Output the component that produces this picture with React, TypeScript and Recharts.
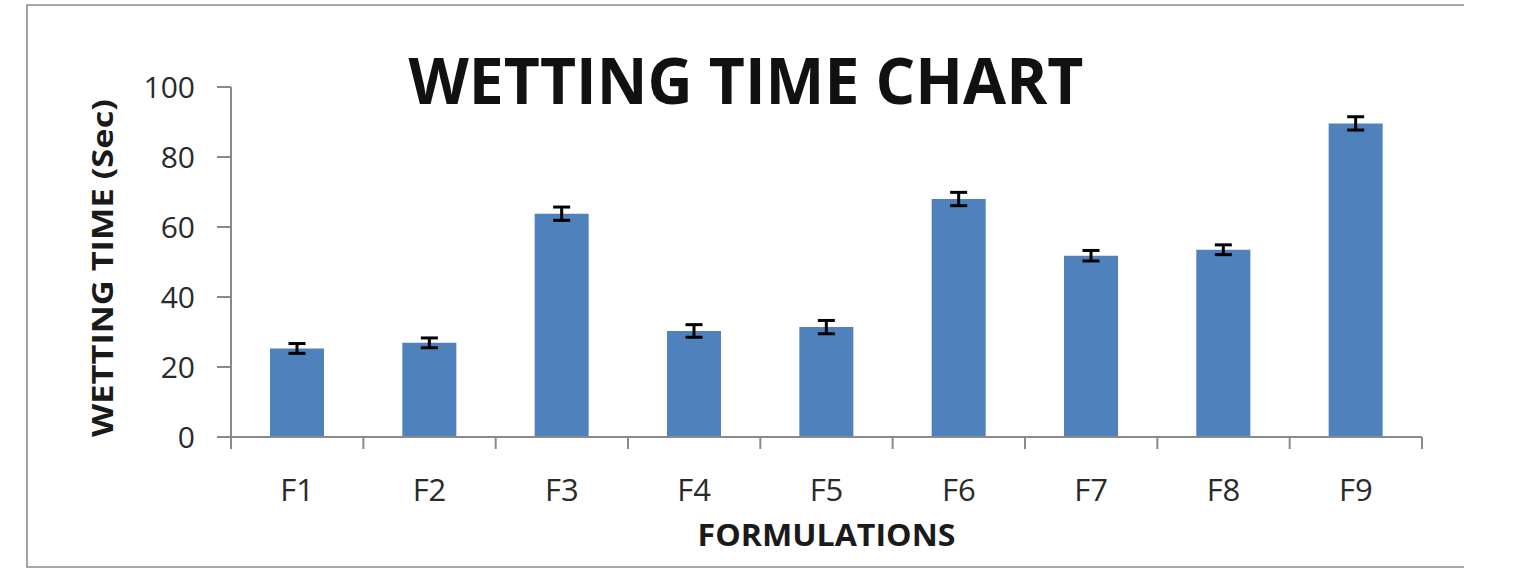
import React from "react";
import { BarChart, Bar, XAxis, YAxis, ErrorBar, Label } from "recharts";

const categories = ["F1", "F2", "F3", "F4", "F5", "F6", "F7", "F8", "F9"];
const wettingTime = [25.3, 26.9, 63.8, 30.3, 31.4, 68.0, 51.8, 53.5, 89.6];
const errors = [1.4, 1.4, 1.9, 1.8, 1.9, 1.9, 1.5, 1.4, 1.9];
const yTicks = [0, 20, 40, 60, 80, 100];

const data = categories.map((c, i) => ({ name: c, value: wettingTime[i], err: errors[i] }));

const FONT = "'Open Sans', 'DejaVu Sans', sans-serif";
const AXIS = "#8a8a8a";
const X_TICK_SIZE = 12;
const X_TICK_MARGIN = 30;

const XLabel = (props: any) => {
  const vb = props.viewBox;
  return (
    <text
      x={vb.x + vb.width / 2}
      y={546}
      textAnchor="middle"
      fontFamily={FONT}
      fontWeight={700}
      fontSize={31}
      fill="#1a1a1a"
      textLength={258}
      lengthAdjust="spacingAndGlyphs"
    >
      FORMULATIONS
    </text>
  );
};

const YLabel = () => {
  const cx = 101;
  const cy = 268;
  return (
    <text
      x={cx}
      y={cy}
      transform={`rotate(-90 ${cx} ${cy})`}
      textAnchor="middle"
      dominantBaseline="central"
      fontFamily={FONT}
      fontWeight={700}
      fontSize={29}
      fill="#1a1a1a"
      textLength={338}
      lengthAdjust="spacingAndGlyphs"
    >
      WETTING  TIME  (Sec)
    </text>
  );
};

const CategoryTick = (props: any) => {
  const { x, y, payload, index, width, visibleTicksCount } = props;
  const count = visibleTicksCount || categories.length;
  const half = width ? width / count / 2 : payload && payload.offset ? payload.offset : 0;
  const axisY = y - X_TICK_MARGIN - X_TICK_SIZE;
  const lines = [x - half];
  if (index === count - 1) lines.push(x + half);
  return (
    <g>
      {half > 0 &&
        lines.map((lx, i) => (
          <line key={i} x1={lx} x2={lx} y1={axisY} y2={axisY + X_TICK_SIZE} stroke={AXIS} strokeWidth={2} />
        ))}
      <text
        x={x}
        y={y}
        dy="0.71em"
        textAnchor="middle"
        fontFamily={FONT}
        fontSize={31}
        fill="#2a2a2a"
      >
        {payload.value}
      </text>
    </g>
  );
};

export default function App() {
  return (
    <div style={{ position: "absolute", left: 0, top: 0, width: 1518, height: 573, background: "#fff" }}>
      <svg width={1518} height={573} style={{ position: "absolute", left: 0, top: 0 }}>
        <polyline points="1464,5 27,5 27,567 1464,567" fill="none" stroke="#8c8c8c" strokeWidth={1.6} />
        <text
          x={746}
          y={104}
          textAnchor="middle"
          fontFamily={FONT}
          fontWeight={700}
          fontSize={65}
          fill="#111"
          textLength={675}
          lengthAdjust="spacingAndGlyphs"
        >
          WETTING TIME CHART
        </text>
      </svg>
      <div style={{ position: "absolute", left: 0, top: 0 }}>
        <BarChart
          width={1518}
          height={573}
          data={data}
          margin={{ top: 87, right: 96, left: 0, bottom: 56 }}
        >
          <XAxis
            dataKey="name"
            height={80}
            interval={0}
            tickSize={X_TICK_SIZE}
            tickMargin={X_TICK_MARGIN}
            axisLine={{ stroke: AXIS, strokeWidth: 2 }}
            tickLine={false}
            tick={<CategoryTick />}
          >
            <Label content={XLabel} />
          </XAxis>
          <YAxis
            width={231}
            domain={[0, 100]}
            ticks={yTicks}
            tickSize={14}
            tickMargin={22}
            axisLine={{ stroke: AXIS, strokeWidth: 2 }}
            tickLine={{ stroke: AXIS, strokeWidth: 2 }}
            tick={{ fontFamily: FONT, fontSize: 30, fill: "#2a2a2a" }}
          >
            <Label content={YLabel} />
          </YAxis>
          <Bar dataKey="value" fill="#4F81BD" barSize={54} isAnimationActive={false}>
            <ErrorBar dataKey="err" width={8.5} stroke="#000" strokeWidth={3} direction="y" />
          </Bar>
        </BarChart>
      </div>
    </div>
  );
}
